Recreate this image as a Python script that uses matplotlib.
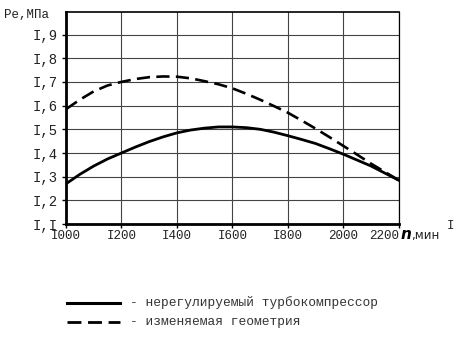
import numpy as np
import matplotlib.pyplot as plt

# частота вращения, мин^-1
n = [1000, 1050, 1100, 1150, 1200, 1250, 1300, 1350, 1400, 1450, 1500, 1550, 1600,
     1650, 1700, 1750, 1800, 1850, 1900, 1950, 2000, 2050, 2100, 2150, 2200]
# Pe, МПа: нерегулируемый турбокомпрессор
pe_fixed = [1.27, 1.31, 1.345, 1.375, 1.40, 1.425, 1.448, 1.468, 1.485, 1.497, 1.505, 1.51, 1.51,
            1.507, 1.50, 1.488, 1.473, 1.457, 1.44, 1.418, 1.395, 1.37, 1.345, 1.315, 1.285]
# Pe, МПа: изменяемая геометрия
pe_vgt = [1.585, 1.625, 1.66, 1.685, 1.70, 1.712, 1.72, 1.723, 1.722, 1.715, 1.703, 1.69, 1.673,
          1.65, 1.625, 1.598, 1.57, 1.537, 1.503, 1.467, 1.43, 1.393, 1.355, 1.32, 1.285]

x_ticks = [1000, 1200, 1400, 1600, 1800, 2000, 2200]
x_labels = ["I000", "I200", "I400", "I600", "I800", "2000", "2200"]
y_ticks = [1.1, 1.2, 1.3, 1.4, 1.5, 1.6, 1.7, 1.8, 1.9]
y_labels = ["I,I", "I,2", "I,3", "I,4", "I,5", "I,6", "I,7", "I,8", "I,9"]

mono = "Liberation Mono"

fig = plt.figure(figsize=(4.59, 3.38), dpi=100)
ax = fig.add_axes([0.1438, 0.337, 0.725, 0.6275])

ax.plot(n, pe_fixed, color="black", lw=2.0, solid_joinstyle="round")
ax.plot(n, pe_vgt, color="black", lw=1.9, dashes=(5, 2.4))

ax.set_xlim(1000, 2200)
ax.set_ylim(1.1, 1.995)
ax.set_xticks(x_ticks)
ax.set_xticklabels(x_labels, fontfamily=mono, fontsize=9, color="#222222")
ax.get_xticklabels()[-1].set_horizontalalignment("right")
ax.set_yticks(y_ticks)
ax.set_yticklabels(y_labels, fontfamily=mono, fontsize=10, color="#222222")
ax.tick_params(axis="y", length=3, width=1, pad=3, color="black")
ax.tick_params(axis="x", length=3, width=1, pad=1.5, color="black")
ax.grid(True, color="#444444", lw=0.8)

for s in ["left", "bottom"]:
    ax.spines[s].set_linewidth(2.0)
ax.spines["top"].set_linewidth(1.2)
ax.spines["right"].set_linewidth(0.9)

fig.text(0.008, 0.955, "Pe,МПа", fontfamily=mono, fontsize=9, va="center", ha="left",
         color="#222222")
fig.text(0.871, 0.307, "$\\boldsymbol{n}$", fontsize=11, va="center", ha="left")
fig.text(0.896, 0.303, ",мин", fontfamily="DejaVu Sans", fontsize=8.5, va="center",
         ha="left", color="#222222")
fig.text(0.974, 0.331, "I", fontfamily=mono, fontsize=9, va="center", ha="left",
         color="#222222")

# легенда под графиком
legend_rows = [("нерегулируемый турбокомпрессор", None, 0.105),
               ("изменяемая геометрия", (5, 2.4), 0.048)]
for label, dash, y in legend_rows:
    if dash is None:
        fig.add_artist(plt.Line2D([0.146, 0.262], [y, y], color="black", lw=2.2))
    else:
        fig.add_artist(plt.Line2D([0.146, 0.262], [y, y], color="black", lw=2.0, dashes=dash))
    fig.text(0.283, y, "- " + label, fontfamily=mono, fontsize=9.3,
             va="center", ha="left", color="#333333")

fig.savefig("out.png", dpi=100)
